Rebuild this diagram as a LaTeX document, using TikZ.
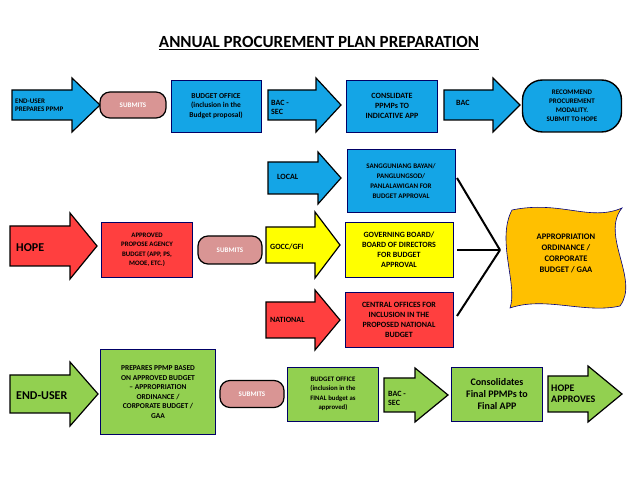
\documentclass[tikz,border=0pt]{standalone}
\usepackage{fontspec}
\setmainfont{Carlito}
\begin{document}
\begin{tikzpicture}[x=1pt,y=-1pt,
  bx/.style={draw=black!60!blue,line width=0.8pt,align=center,font=\bfseries\fontsize{7.5}{9.5}\selectfont,inner sep=1pt},
  pill/.style={draw=black,line width=1.2pt,rounded corners=10pt,fill=pinkc,text=white,font=\bfseries\fontsize{7}{8}\selectfont},
  lbl/.style={anchor=west,align=left,font=\bfseries\fontsize{8}{9}\selectfont,inner sep=0pt},
  conn/.style={line width=2pt}]
\definecolor{bluec}{HTML}{14A5E6}
\definecolor{redc}{HTML}{FF3F3F}
\definecolor{yelc}{HTML}{FFFF00}
\definecolor{grnc}{HTML}{92D050}
\definecolor{orc}{HTML}{FFC000}
\definecolor{pinkc}{HTML}{D99594}
\newcommand{\bigarr}[7]{\draw[line width=1.2pt,fill=#7] (#1,#4-#5) -- (#3,#4-#5) -- (#3,#4-#6) -- (#2,#4) -- (#3,#4+#6) -- (#3,#4+#5) -- (#1,#4+#5) -- cycle;}
\useasboundingbox (0,0) rectangle (638,478);
\node[font=\bfseries\fontsize{17}{20}\selectfont] (title) at (319,43) {\underline{ANNUAL PROCUREMENT PLAN PREPARATION}};
% row 1
\bigarr{12}{100}{72}{105}{15}{27}{bluec}
\node[lbl,font=\bfseries\fontsize{7}{8}\selectfont] (eu) at (15,105) {END-USER\\PREPARES PPMP};
\node[pill,minimum width=66pt,minimum height=26pt] (s1) at (133,105) {SUBMITS};
\node[bx,fill=bluec,minimum width=90pt,minimum height=52pt] (bo) at (216,106) {BUDGET OFFICE\\(inclusion in the\\Budget proposal)};
\bigarr{268}{341}{316}{105}{15}{27}{bluec}
\node[lbl] (bs1) at (271,107) {BAC -\\SEC};
\node[bx,fill=bluec,minimum width=91pt,minimum height=52pt,font=\bfseries\fontsize{8}{10}\selectfont] (con) at (392,106) {CONSLIDATE\\PPMPs TO\\INDICATIVE APP};
\bigarr{444}{520}{493}{105}{15}{27}{bluec}
\node[lbl] (bac) at (456,103) {BAC};
\node[bx,draw=black,line width=1.4pt,fill=bluec,rounded corners=20pt,minimum width=99pt,minimum height=52pt,font=\bfseries\fontsize{7}{9}\selectfont] (rec) at (572,106) {RECOMMEND\\PROCUREMENT\\MODALITY.\\SUBMIT TO HOPE};
% local
\bigarr{268}{341}{318}{178}{16}{26}{bluec}
\node[lbl] (loc) at (277,177) {LOCAL};
\node[bx,fill=bluec,minimum width=108pt,minimum height=63pt,font=\bfseries\fontsize{7}{10}\selectfont] (sb) at (401,181) {SANGGUNIANG BAYAN/\\PANGLUNGSOD/\\PANLALAWIGAN FOR\\BUDGET APPROVAL};
% hope row
\bigarr{10}{97}{70}{246}{20}{33}{redc}
\node[lbl,font=\bfseries\fontsize{12}{14}\selectfont] (hope) at (16,248) {HOPE};
\node[bx,fill=redc,minimum width=91pt,minimum height=55pt,font=\bfseries\fontsize{6.8}{9.5}\selectfont] (apab) at (147,250) {APPROVED\\PROPOSE AGENCY\\BUDGET (APP, PS,\\MOOE, ETC.)};
\node[pill,minimum width=64pt,minimum height=28pt] (s2) at (230,250) {SUBMITS};
\bigarr{266}{340}{315}{245}{18}{33}{yelc}
\node[lbl] (gocc) at (270,247) {GOCC/GFI};
\node[bx,fill=yelc,minimum width=108pt,minimum height=55pt,font=\bfseries\fontsize{8}{10}\selectfont] (gb) at (399,250) {GOVERNING BOARD/\\BOARD OF DIRECTORS\\FOR BUDGET\\APPROVAL};
\bigarr{266}{340}{315}{320}{18}{30}{redc}
\node[lbl] (nat) at (270,320) {NATIONAL};
\node[bx,fill=redc,minimum width=108pt,minimum height=55pt,font=\bfseries\fontsize{8}{10}\selectfont] (co) at (399,320) {CENTRAL OFFICES FOR\\INCLUSION IN THE\\PROPOSED NATIONAL\\BUDGET};
\coordinate (m) at (500,250);
\draw[conn] (457,178) -- (m);
\draw[conn] (gb.east) ++(4,0) -- (m);
\draw[conn] (457,316) -- (m);
% scroll
\draw[line width=0.6pt,draw=black!50!blue,fill=orc] (512,210) .. controls (560,200) and (590,222) .. (622,208)
 .. controls (600,235) and (640,280) .. (620,306) .. controls (585,314) and (545,296) .. (510,308)
 .. controls (518,285) and (496,240) .. (512,210) -- cycle;
\node[align=center,font=\bfseries\fontsize{8.5}{11}\selectfont] (aa) at (566,253) {APPROPRIATION\\ORDINANCE /\\CORPORATE\\BUDGET / GAA};
% bottom row
\bigarr{10}{98}{70}{394}{19}{32}{grnc}
\node[lbl,font=\bfseries\fontsize{12}{14}\selectfont] (eu2) at (16,396) {END-USER};
\node[bx,fill=grnc,minimum width=115pt,minimum height=85pt] (pp) at (158,392) {PREPARES PPMP BASED\\ON APPROVED BUDGET\\-- APPROPRIATION\\ORDINANCE /\\CORPORATE BUDGET /\\GAA};
\node[pill,minimum width=64pt,minimum height=27pt] (s3) at (252,394) {SUBMITS};
\node[bx,fill=grnc,minimum width=91pt,minimum height=54pt,font=\bfseries\fontsize{6.8}{9.5}\selectfont] (bo2) at (333,394) {BUDGET OFFICE\\(inclusion in the\\FINAL budget as\\approved)};
\bigarr{384}{448}{415}{395}{17}{27}{grnc}
\node[lbl] (bs2) at (388,398) {BAC -\\SEC};
\node[bx,fill=grnc,minimum width=91pt,minimum height=54pt,font=\bfseries\fontsize{10}{12}\selectfont] (cf) at (497,394) {Consolidates\\Final PPMPs to\\Final APP};
\bigarr{548}{622}{588}{394}{18}{28}{grnc}
\node[lbl,font=\bfseries\fontsize{10}{11}\selectfont] (ha) at (551,394) {HOPE\\APPROVES};
\end{tikzpicture}
\end{document}
